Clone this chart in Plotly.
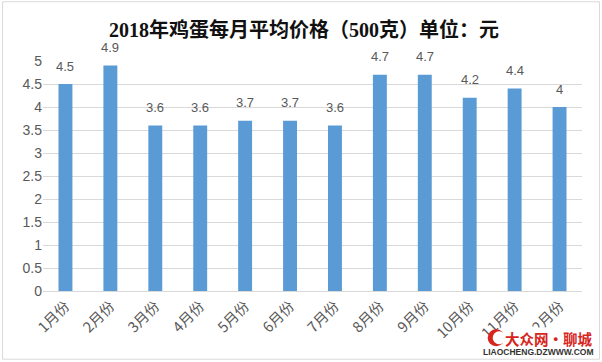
import plotly.graph_objects as go

months = ["1月份","2月份","3月份","4月份","5月份","6月份","7月份","8月份","9月份","10月份","11月份","12月份"]
prices = [4.5,4.9,3.6,3.6,3.7,3.7,3.6,4.7,4.7,4.2,4.4,4]
y_ticks = [0,0.5,1,1.5,2,2.5,3,3.5,4,4.5,5]
y_labels = ["0","0.5","1","1.5","2","2.5","3","3.5","4","4.5","5"]
title_text = "<b>2018年鸡蛋每月平均价格（500克）单位：元</b>"
logo_cn = "<b>大众网·聊城</b>"
logo_en = "<b>LIAOCHENG.DZWWW.COM</b>"

W, H = 602, 362
L, R, T, B = 42.5, 19.5, 60.5, 70.5
def px(x): return (x - L) / (W - L - R)
def py(y): return 1 - (y - T) / (H - T - B)

GRAY = "#595959"
fig = go.Figure(go.Bar(
    x=months, y=prices, width=0.31, marker=dict(color="#5B9BD5", line_width=0),
    hoverinfo="skip",
))
annos = [dict(x=m, y=v, text=str(v), xref="x", yref="y", showarrow=False, yanchor="middle", yshift=18,
              font=dict(size=13, color=GRAY, family="Liberation Sans")) for m, v in zip(months, prices)]
annos += [
    dict(text=logo_cn, xref="paper", yref="paper", x=px(595), y=py(339), xanchor="right", yanchor="middle",
         showarrow=False, bgcolor="white", borderpad=0,
         font=dict(size=14.5, color="#D7251D", family="Noto Sans CJK SC")),
    dict(text=logo_en, xref="paper", yref="paper", x=px(596), y=py(353), xanchor="right", yanchor="middle",
         showarrow=False, font=dict(size=8.5, color="#333333", family="Liberation Sans")),
]
fig.update_layout(
    width=W, height=H, autosize=False, showlegend=False,
    paper_bgcolor="white", plot_bgcolor="white",
    margin=dict(l=L, r=R, t=T, b=B),
    font=dict(family="Noto Sans CJK SC", color=GRAY, size=12),
    title=dict(text=title_text, x=304/W, xanchor="center", y=1-30/H, yanchor="middle",
               font=dict(family="Liberation Serif, Noto Sans CJK SC", size=20, color="#111111")),
    xaxis=dict(type="category", tickangle=-45, showgrid=False, showline=True, linecolor="#D9D9D9",
               ticks="", tickfont=dict(size=14.5, color=GRAY)),
    yaxis=dict(range=[0,5], tickvals=y_ticks, ticktext=y_labels, showgrid=True, gridcolor="#D9D9D9",
               gridwidth=1, zeroline=False, ticks="", tickfont=dict(size=14, color=GRAY, family="Liberation Sans")),
    shapes=[
        dict(type="rect", xref="paper", yref="paper", x0=px(2), x1=px(600), y0=py(360), y1=py(1),
             line=dict(color="#D9D9D9", width=1)),
        dict(type="circle", xref="paper", yref="paper", x0=px(488), x1=px(505), y0=py(347), y1=py(330),
             fillcolor="#D7251D", line_width=0),
        dict(type="circle", xref="paper", yref="paper", x0=px(493), x1=px(506), y0=py(345), y1=py(332),
             fillcolor="white", line_width=0),
    ],
    annotations=annos,
)
fig.write_html("out.html", config={"displayModeBar": False}, post_script="document.body.style.margin='0';")
